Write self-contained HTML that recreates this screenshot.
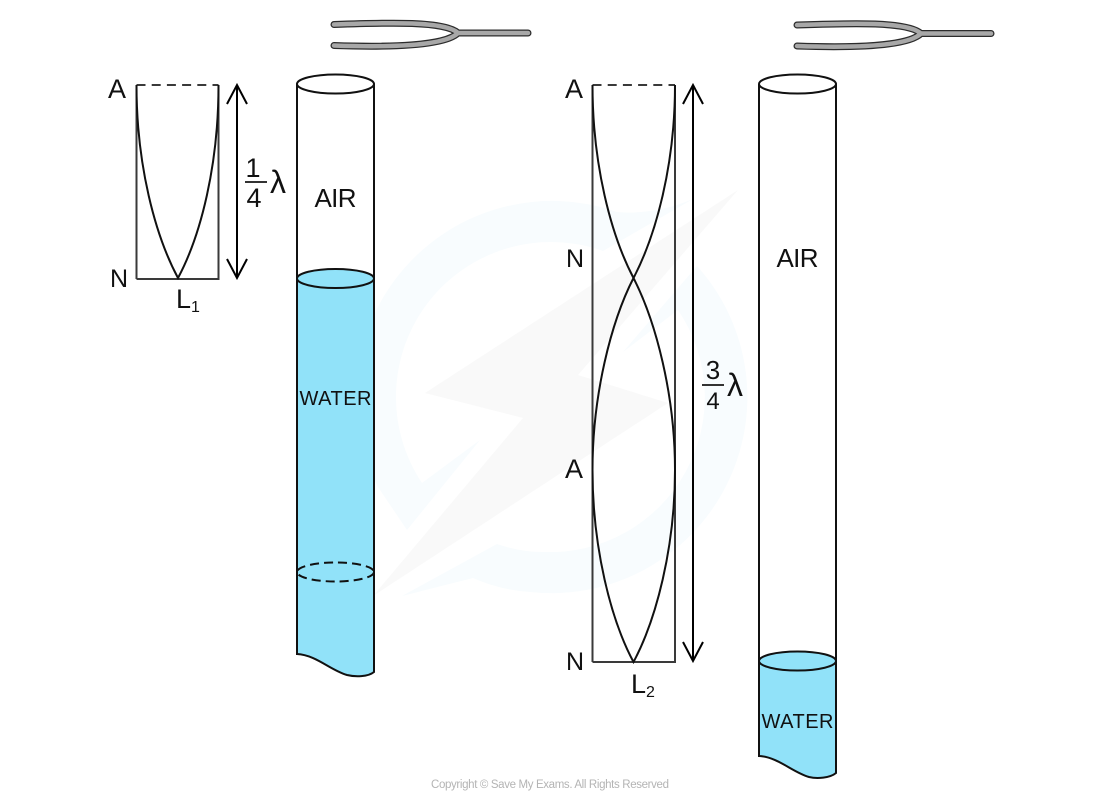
<!DOCTYPE html>
<html><head><meta charset="utf-8"><style>
html,body{margin:0;padding:0;background:#fff}
svg{display:block}
text{font-family:"Liberation Sans",sans-serif;fill:#111}
</style></head><body>
<svg width="1100" height="795" viewBox="0 0 1100 795" xmlns="http://www.w3.org/2000/svg">
<!-- watermark -->
<g fill="#f8fcfe">
<path d="M378 487A196 196 0 0 1 617 212Q655 215 693 199L603 251A155 155 0 0 0 422 483L480 440L407 530Z"/>
<path d="M697 266A196 196 0 0 1 530 592Q500 590 473 578L402 596L497 544Q520 552 543 552A155 155 0 0 0 678 310L623 352Z"/>
</g>
<polygon points="738,190 425,393 523,418 373,596 668,403 578,375" fill="#f9f9f9"/>

<!-- left standing wave -->
<path d="M136.500 279V85M218.500 85V279H136.500" fill="none" stroke="#3a3a3a" stroke-width="2"/>
<path d="M136.500 85H218.500" fill="none" stroke="#3a3a3a" stroke-width="2" stroke-dasharray="9 6.200"/>
<path d="M136.500 85C136.500 165 155 235 178 278C201 235 218.500 165 218.500 85" fill="none" stroke="#111" stroke-width="2"/>
<path d="M237 85V278M227 104L237 85L247 104M227 259L237 278L247 259" fill="none" stroke="#000" stroke-width="2"/>
<text x="108" y="98" font-size="27">A</text>
<text x="110" y="287" font-size="25">N</text>
<text x="176" y="308" font-size="27">L</text>
<text x="191" y="312" font-size="16">1</text>
<text x="253" y="177" font-size="27" text-anchor="middle">1</text>
<path d="M245 182H267" stroke="#333" stroke-width="2"/>
<text x="254" y="207" font-size="27" text-anchor="middle">4</text>
<text x="270" y="193" font-size="32">λ</text>

<!-- left tube -->
<path d="M297 278.500H374V672C368 677 355 677 347 675C330 670 316 655 297 654Z" fill="#91e2f9"/>
<ellipse cx="335.500" cy="278.500" rx="38.500" ry="9.500" fill="#91e2f9" stroke="#111" stroke-width="2"/>
<path d="M297 84V654C316 655 330 670 347 675C355 677 368 677 374 672V84" fill="none" stroke="#111" stroke-width="2"/>
<ellipse cx="335.500" cy="84" rx="38.500" ry="9.500" fill="#fff" stroke="#111" stroke-width="2"/>
<ellipse cx="335.500" cy="572" rx="38.500" ry="9.500" fill="none" stroke="#111" stroke-width="2" stroke-dasharray="9 5"/>
<text x="335.500" y="207" font-size="26" text-anchor="middle" textLength="42">AIR</text>
<text x="335.500" y="405" font-size="20" text-anchor="middle" textLength="72">WATER</text>

<!-- left fork -->
<g fill="none" stroke-linecap="round">
<path d="M334 24.500C390 22.500 445 21 458 33H528M334 45.500C390 47.500 445 46 458 33" stroke="#2c2c2c" stroke-width="7"/>
<path d="M334 24.500C390 22.500 445 21 458 33H528M334 45.500C390 47.500 445 46 458 33" stroke="#a8a8a8" stroke-width="4.500"/>
</g>

<!-- right standing wave -->
<path d="M592.500 662V85M675 85V662H592.500" fill="none" stroke="#3a3a3a" stroke-width="2"/>
<path d="M592.500 85H675" fill="none" stroke="#3a3a3a" stroke-width="2" stroke-dasharray="9 6.200"/>
<path d="M592.500 85C592.500 165 611 235 633.500 278C656 322 675 395 675 470C675 548 656 620 633.500 662C611 620 592.500 548 592.500 470C592.500 395 611 322 633.500 278C656 235 675 165 675 85" fill="none" stroke="#111" stroke-width="2"/>
<path d="M693 85V661M683 104L693 85L703 104M683 642L693 661L703 642" fill="none" stroke="#000" stroke-width="2"/>
<text x="565" y="98" font-size="27">A</text>
<text x="566" y="267" font-size="25">N</text>
<text x="565" y="478" font-size="27">A</text>
<text x="566" y="670" font-size="25">N</text>
<text x="631" y="693" font-size="27">L</text>
<text x="646" y="697" font-size="16">2</text>
<text x="713" y="379" font-size="26" text-anchor="middle">3</text>
<path d="M702 385H724" stroke="#333" stroke-width="2"/>
<text x="713" y="409" font-size="24" text-anchor="middle">4</text>
<text x="727" y="396" font-size="32">λ</text>

<!-- right tube -->
<path d="M759 661H836V773C830 778 817 779 809 777C792 772 778 757 759 756Z" fill="#91e2f9"/>
<ellipse cx="797.500" cy="661" rx="38.500" ry="9.500" fill="#91e2f9" stroke="#111" stroke-width="2"/>
<path d="M759 84V756C778 757 792 772 809 777C817 779 830 778 836 773V84" fill="none" stroke="#111" stroke-width="2"/>
<ellipse cx="797.500" cy="84" rx="38.500" ry="9.500" fill="#fff" stroke="#111" stroke-width="2"/>
<text x="797.500" y="267" font-size="26" text-anchor="middle" textLength="42">AIR</text>
<text x="797.500" y="728" font-size="20" text-anchor="middle" textLength="72">WATER</text>

<!-- right fork -->
<g fill="none" stroke-linecap="round" transform="translate(463 0.500)">
<path d="M334 24.500C390 22.500 445 21 458 33H528M334 45.500C390 47.500 445 46 458 33" stroke="#2c2c2c" stroke-width="7"/>
<path d="M334 24.500C390 22.500 445 21 458 33H528M334 45.500C390 47.500 445 46 458 33" stroke="#a8a8a8" stroke-width="4.500"/>
</g>

<text x="550" y="788" font-size="11.500" text-anchor="middle" textLength="238" style="fill:#b4b4b4">Copyright © Save My Exams. All Rights Reserved</text>
</svg>
</body></html>
